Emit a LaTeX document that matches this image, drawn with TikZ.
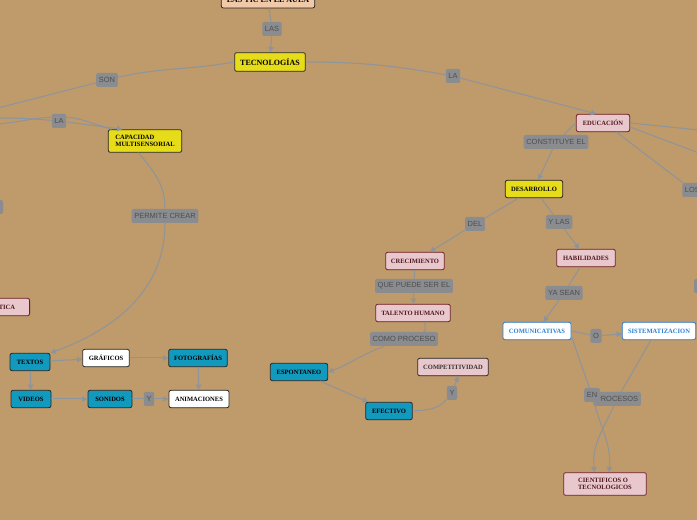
\documentclass[tikz,border=0pt]{standalone}
\usepackage{fontspec}
\setmainfont{Liberation Serif}
\newfontfamily\lblfont{Liberation Sans}
\usetikzlibrary{arrows.meta}
\definecolor{bg}{HTML}{BF9A6B}
\definecolor{ln}{HTML}{8E949B}
\definecolor{lblf}{HTML}{8A8C8F}
\definecolor{lblt}{HTML}{4E4E4E}
\definecolor{yel}{HTML}{E6DC1A}
\definecolor{pnk}{HTML}{E8C8CC}
\definecolor{pnkb}{HTML}{6E1E28}
\definecolor{blu}{HTML}{1199BE}
\definecolor{wbl}{HTML}{2A7FD4}
\definecolor{pch}{HTML}{F0C9A8}
\tikzset{
  x=0.75pt,y=-0.75pt,
  box/.style={rounded corners=1.5pt,draw=black!85,line width=0.6pt,font=\bfseries\fontsize{4.9}{5.4}\selectfont,inner sep=1pt,minimum height=13pt,align=left},
  ybox/.style={box,fill=yel},
  pbox/.style={box,fill=pnk,draw=pnkb,text=pnkb!70!black},
  bbox/.style={box,fill=blu},
  wbox/.style={box,fill=white},
  cbox/.style={box,fill=white,draw=wbl,text=wbl},
  lbl/.style={fill=lblf,rounded corners=1.5pt,text=lblt,font=\lblfont\fontsize{5.6}{6.5}\selectfont,inner sep=2pt,minimum height=10.5pt},
  conn/.style={draw=ln,line width=0.75pt},
  arr/.style={conn,-{Triangle[length=4pt,width=4pt]}},
}
\begin{document}
\begin{tikzpicture}
\fill[bg] (0,0) rectangle (697,520);
\useasboundingbox (0,0) rectangle (697,520);
\clip (0,0) rectangle (697,520);
% nodes
\node[box,fill=pch,minimum width=70pt,minimum height=12pt,font=\bfseries\fontsize{6}{7}\selectfont] (top) at (268,0) {LAS TIC EN EL AULA};
\node[ybox,minimum width=53pt,minimum height=14pt,font=\bfseries\fontsize{6}{7}\selectfont] (tec) at (270,62) {TECNOLOGÍAS};
\node[ybox,minimum width=55pt,minimum height=17pt] (cap) at (145,141) {CAPACIDAD\\MULTISENSORIAL};
\node[pbox,anchor=east,minimum width=50pt,inner xsep=2pt,align=right] (dida) at (30,307) {DIDÁCTICA};
\node[bbox,minimum width=30pt] (tex) at (30,362) {TEXTOS};
\node[wbox,minimum width=35pt] (gra) at (106,358) {GRÁFICOS};
\node[bbox,minimum width=44pt] (fot) at (198,358) {FOTOGRAFÍAS};
\node[bbox,minimum width=30pt] (vid) at (31,399) {VIDEOS};
\node[bbox,minimum width=33pt] (son2) at (110,399) {SONIDOS};
\node[wbox,minimum width=45pt] (ani) at (199,399) {ANIMACIONES};
\node[bbox,minimum width=43pt] (esp) at (299,372) {ESPONTANEO};
\node[bbox,minimum width=35pt] (efe) at (389,411) {EFECTIVO};
\node[pbox,draw=black!85,text=black!80,minimum width=53pt] (com) at (453,367) {COMPETITIVIDAD};
\node[pbox,minimum width=56pt] (tal) at (413,313) {TALENTO HUMANO};
\node[pbox,minimum width=44pt] (cre) at (415,261) {CRECIMIENTO};
\node[ybox,minimum width=43pt] (des) at (534,189) {DESARROLLO};
\node[pbox,minimum width=40pt] (edu) at (603,123) {EDUCACIÓN};
\node[pbox,minimum width=44pt] (hab) at (586,258) {HABILIDADES};
\node[cbox,minimum width=51pt] (comu) at (537,331) {COMUNICATIVAS};
\node[cbox,minimum width=55pt] (sis) at (659,331) {SISTEMATIZACION};
\node[pbox,minimum width=62pt,minimum height=17pt] (cie) at (605,484) {CIENTIFICOS O\\TECNOLOGICOS};
% coordinates at edges
\coordinate (l1) at (-2,108);
\coordinate (l2) at (-2,118);
\coordinate (l3) at (-2,124);
\coordinate (r1) at (699,130);
\coordinate (r2) at (699,153);
% connectors
\node[lbl] (las) at (272,29) {LAS};
\draw[conn] (top) -- (las); \draw[arr] (las) -- (tec);
\draw[conn] (tec.west) to[out=190,in=15] (107,80) -- (l1);
\node[lbl] (son) at (107,80) {SON};
\draw[conn] (tec.east) to[out=0,in=170] (453,76);
\node[lbl] (la2) at (453,76) {LA};
\draw[arr] (la2) to[out=-15,in=165] ([xshift=-5pt]edu.north);
\draw[conn] (l2) to[out=0,in=175] (59,121);
\node[lbl] (la1) at (59,121) {LA};
\draw[arr] (la1) -- ([xshift=-17pt]cap.north);
\draw[conn] (l3) to[out=5,in=180] (60,117) to[out=0,in=165] ([xshift=-25pt]cap.north);
\node[lbl] (pc) at (165,216) {PERMITE CREAR};
\draw[conn] ([xshift=-5pt]cap.south) to[out=-50,in=90] (pc);
\draw[arr] (pc) to[out=-90,in=20] (tex.north east);
\node[lbl,minimum width=12pt] (lft) at (-5,207) {};
\node[lbl,minimum width=12pt] (rgt) at (702,286) {};
\node[lbl,anchor=west] (los) at (682,190) {LOS};
\draw[arr] (tex) -- (gra);
\draw[arr] (gra) -- (fot);
\draw[arr] (fot) -- (ani);
\draw[arr] (tex) -- (vid);
\draw[arr] (vid) -- (son2);
\node[lbl] (y1) at (149,399) {Y};
\draw[conn] (son2) -- (y1); \draw[arr] (y1) -- (ani);
\node[lbl] (cp) at (404,339) {COMO PROCESO};
\draw[conn] ([xshift=10pt]tal.south) to[out=-160,in=20] (cp);
\draw[arr] (cp) to[out=-160,in=20] (esp.east);
\draw[arr] (esp) -- (efe);
\node[lbl] (y2) at (452,393) {Y};
\draw[conn] (efe.east) to[out=5,in=-130] (y2);
\draw[arr] (y2) -- ([xshift=4pt]com.south);
\node[lbl] (qp) at (414,286) {QUE PUEDE SER EL};
\draw[conn] (cre) -- (qp); \draw[arr] (qp) -- (tal);
\node[lbl] (del) at (475,224) {DEL};
\draw[conn] (des) -- (del); \draw[arr] (del) -- (cre);
\node[lbl] (ce) at (556,142) {CONSTITUYE EL};
\draw[conn] (edu.west) -- (ce); \draw[arr] (ce) -- (des);
\node[lbl] (yl) at (559,222) {Y LAS};
\draw[conn] (des) -- (yl); \draw[arr] (yl) -- (hab);
\node[lbl] (ys) at (564,293) {YA SEAN};
\draw[conn] (hab) -- (ys); \draw[arr] (ys) -- (comu);
\node[lbl] (o1) at (596,336) {O};
\draw[conn] (comu.east) -- (o1); \draw[arr] (o1) -- (sis);
\draw[conn] (edu.east) -- (r1);
\draw[conn] ([yshift=-3pt]edu.east) -- (r2);
\draw[conn] ([xshift=10pt]edu.south) -- (los);
\node[lbl] (pro) at (617,399) {PROCESOS};
\draw[conn] ([xshift=-6pt]sis.south) -- (pro);
\draw[arr] (pro) to[out=-115,in=95] ([xshift=-8pt]cie.north);
\node[lbl] (en) at (592,395) {EN};
\draw[conn] ([yshift=-4pt]comu.east) -- (en);
\draw[arr] (en) to[out=-75,in=85] ([xshift=3pt]cie.north);
\end{tikzpicture}
\end{document}
